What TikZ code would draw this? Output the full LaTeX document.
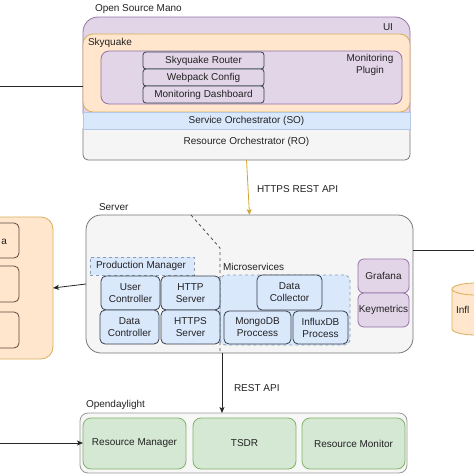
\documentclass[tikz,border=0pt]{standalone}
\usepackage{fontspec}
\setmainfont{Liberation Sans}
\usetikzlibrary{arrows.meta}
\definecolor{purF}{HTML}{E1D5E7}
\definecolor{purD}{HTML}{9673A6}
\definecolor{orF}{HTML}{FFE6CC}
\definecolor{orD}{HTML}{D9AE5A}
\definecolor{bluF}{HTML}{DAE8FC}
\definecolor{bluD}{HTML}{B4C8E6}
\definecolor{dashD}{HTML}{8A9DB5}
\definecolor{gryF}{HTML}{F5F5F5}
\definecolor{gryD}{HTML}{777777}
\definecolor{grnF}{HTML}{D5E8D4}
\definecolor{grnD}{HTML}{82B366}
\definecolor{darkD}{HTML}{36404C}
\definecolor{brnD}{HTML}{5C4A3C}
\definecolor{goldA}{HTML}{CFA632}
\definecolor{txt}{HTML}{222222}
\begin{document}
\begin{tikzpicture}[x=1pt,y=-1pt,
  font=\fontsize{10}{12}\selectfont,
  every node/.style={inner sep=0pt, outer sep=0pt, align=center, text=txt},
  region/.style={draw, line width=0.8pt},
  darkbox/.style={draw=darkD, line width=0.8pt, rounded corners=3pt},
  bluebox/.style={draw=darkD, fill=bluF, line width=0.8pt, rounded corners=5pt},
  purbox/.style={draw=purD, fill=purF, line width=0.8pt, rounded corners=6pt},
  grnbox/.style={draw=grnD, fill=grnF, line width=0.8pt, rounded corners=8pt},
  lbl/.style={anchor=west},
  conn/.style={line width=0.8pt, draw=black!85},
  tip/.style={-{Stealth[length=6pt,width=5pt,inset=1.5pt]}}
]
\useasboundingbox (0,0) rectangle (474,474);

% ---------- Open Source Mano ----------
\node[lbl] (osmlbl) at (95,9) {Open Source Mano};
\node[region, draw=purD, fill=purF, rounded corners=15pt, minimum width=327, minimum height=110] (ui) at (246.5,72) {};
\node (uilbl) at (388,27) {UI};
\node[region, draw=orD, fill=orF, rounded corners=10pt, minimum width=327, minimum height=78] (sky) at (246.5,73) {};
\node[lbl] (skylbl) at (88,43) {Skyquake};
\node[region, draw=purD, fill=purF, rounded corners=8pt, minimum width=301, minimum height=53] (mp) at (251.5,77.5) {};
\node (mplbl) at (370,65) {Monitoring\\Plugin};
\node[darkbox, fill=purF, minimum width=121, minimum height=17] (sr) at (203.5,60.5) {Skyquake Router};
\node[darkbox, fill=purF, minimum width=121, minimum height=17] (wc) at (203.5,77.5) {Webpack Config};
\node[darkbox, fill=purF, minimum width=121, minimum height=17] (md) at (203.5,94.5) {Monitoring Dashboard};
\node[region, draw=gryD, fill=gryF, rounded corners=5pt, minimum width=327, minimum height=36] (ro) at (246.5,142) {Resource Orchestrator (RO)};
\node[region, draw=bluD, fill=bluF, minimum width=327, minimum height=17] (so) at (246.5,120.5) {Service Orchestrator (SO)};

\coordinate (l1) at (0,86);
\draw[conn] (l1) -- (l1 -| sky.west);

% ---------- HTTPS REST API ----------
\node[region, draw=gryD, fill=gryF, rounded corners=15pt, minimum width=327, minimum height=138] (server) at (249.5,284) {};
\draw[line width=0.8pt, draw=goldA, -{Stealth[length=6pt,width=5pt,inset=1.5pt]}] (ro.south) -- (server.north);
\node[lbl] (httpslbl) at (257,189) {HTTPS REST API};

% ---------- Server ----------
\node[lbl] (srvlbl) at (99,207) {Server};
\node[draw=dashD, dashed, fill=bluF, line width=0.8pt, rounded corners=6pt, minimum width=130, minimum height=70] (micro) at (285,310) {};
\node[draw=dashD, dashed, fill=bluF, line width=0.8pt, minimum width=104, minimum height=18] (pm) at (142,266) {};
\node[lbl] (pmlbl) at (96,266) {Production Manager};
\coordinate (d1) at (191,215);
\coordinate (d2) at (220,248);
\draw[dashed, line width=0.8pt, draw=black!70] (d1) -- (d2) -- (d2 |- server.south);
\node[lbl] (mslbl) at (223,267) {Microservices};

\node[bluebox, minimum width=59, minimum height=34] (uc) at (130.5,293) {User\\Controller};
\node[bluebox, minimum width=59, minimum height=34] (http) at (190.5,293) {HTTP\\Server};
\node[bluebox, minimum width=59, minimum height=34] (dc) at (129.5,327) {Data\\Controller};
\node[bluebox, minimum width=59, minimum height=34] (https) at (190.5,327) {HTTPS\\Server};
\node[bluebox, minimum width=65, minimum height=35] (dcol) at (289.5,292.5) {Data\\Collector};
\node[bluebox, minimum width=67, minimum height=33] (mongo) at (257.5,327.5) {MongoDB\\Proccess};
\node[bluebox, minimum width=55, minimum height=33] (influx) at (320.5,327.5) {InfluxDB\\Process};

\node[purbox, minimum width=51, minimum height=34] (graf) at (383.5,276) {Grafana};
\node[purbox, minimum width=51, minimum height=34] (key) at (383.5,310) {Keymetrics};

% right link and database
\coordinate (rt) at (474,250);
\draw[conn] (rt -| server.east) -- (rt);
\fill[orF] (452,289) -- (452,329) arc[start angle=180, end angle=0, x radius=24, y radius=6] -- (500,289) -- cycle;
\draw[draw=orD, line width=0.8pt] (452,289) -- (452,329) arc[start angle=180, end angle=0, x radius=24, y radius=6] -- (500,289);
\draw[draw=orD, fill=orF, line width=0.8pt] (476,289) ellipse[x radius=24, y radius=6];
\node[lbl] (dblbl) at (456,310) {Infl};

% left box
\node[region, draw=orD, fill=orF, rounded corners=12pt, minimum width=83, minimum height=142] (lbox) at (11.5,288) {};
\node[draw=brnD, fill=orF, line width=0.8pt, rounded corners=5pt, minimum width=39, minimum height=35] (lb1) at (-0.5,240.5) {};
\node[draw=brnD, fill=orF, line width=0.8pt, rounded corners=5pt, minimum width=39, minimum height=36] (lb2) at (-0.5,284) {};
\node[draw=brnD, fill=orF, line width=0.8pt, rounded corners=5pt, minimum width=39, minimum height=36] (lb3) at (-0.5,330) {};
\node[anchor=east] (lb1lbl) at (7,242) {a};
\draw[conn, tip] (server.west) -- (lbox.east);

% ---------- REST API ----------
\node[region, draw=black!40, fill=white!97!black, rounded corners=8pt, minimum width=327, minimum height=60] (odl) at (243.5,443) {};
\coordinate (d4) at (222,353);
\draw[conn, tip] (d4) -- (d4 |- odl.north);
\node[lbl] (restlbl) at (234,388) {REST API};
\node[lbl] (odllbl) at (86,405) {Opendaylight};
\node[grnbox, minimum width=103, minimum height=51] (rm) at (134.5,443.5) {Resource Manager};
\node[grnbox, minimum width=103, minimum height=51] (tsdr) at (244.5,443.5) {TSDR};
\node[grnbox, minimum width=103, minimum height=51] (rmon) at (353.5,443.5) {Resource Monitor};
\coordinate (l2) at (0,443);
\draw[conn, tip] (l2) -- (l2 -| rm.west);
\end{tikzpicture}
\end{document}
